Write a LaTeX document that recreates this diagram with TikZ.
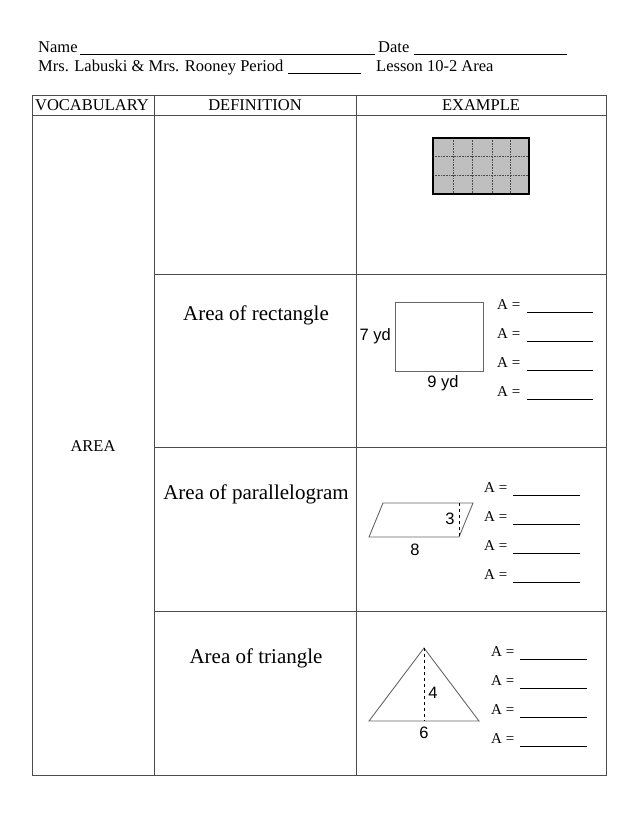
\documentclass[tikz,border=0pt]{standalone}
\usepackage{fontspec}
\setmainfont{Liberation Serif}
\newfontfamily\arial{Liberation Sans}
\begin{document}
\begin{tikzpicture}[x=1pt,y=-1pt,
  grid/.style={draw=black!70,line width=0.8pt},
  txt/.style={font=\fontsize{16.5}{18}\selectfont,inner sep=0pt},
  ans/.style={font=\fontsize{15}{17}\selectfont,inner sep=0pt},
  big/.style={font=\fontsize{21}{23}\selectfont,inner sep=0pt},
  lab/.style={font=\arial\fontsize{16.5}{18}\selectfont,inner sep=0pt},
  shp/.style={draw=black!60,line width=0.9pt},
  blank/.style={draw=black,line width=0.6pt}]
\useasboundingbox (0,0) rectangle (638,826);
% heading
\node[txt,anchor=base west] (nm) at (38,53) {Name};
\draw[blank] (80,54) -- (375,54);
\node[txt,anchor=base west] (dt) at (378,53) {Date};
\draw[blank] (414,54) -- (567,54);
\node[txt,anchor=base west] (l2) at (38,72) {Mrs. Labuski \& Mrs. Rooney Period};
\draw[blank] (288,73) -- (361,73);
\node[txt,anchor=base west] (l3) at (376,72) {Lesson 10-2 Area};
% table
\draw[grid] (32,95) rectangle (606,775);
\draw[grid] (32,115) -- (606,115);
\draw[grid] (154,95) -- (154,775);
\draw[grid] (356,95) -- (356,775);
\foreach \y in {274,447,611} \draw[grid] (154,\y) -- (606,\y);
\node[txt] (h1) at (92,105) {VOCABULARY};
\node[txt] (h2) at (255,105) {DEFINITION};
\node[txt] (h3) at (481,105) {EXAMPLE};
\node[txt] (ar) at (93,446) {AREA};
\node[big] (d1) at (256,315) {Area of rectangle};
\node[big] (d2) at (256,494) {Area of parallelogram};
\node[big] (d3) at (256,658) {Area of triangle};
% grid rectangle
\fill[black!25] (433,138) rectangle (529,194);
\foreach \x in {453,472,492,510} \draw[densely dotted,black!70,line width=0.6pt] (\x,138) -- (\x,194);
\foreach \y in {156,175} \draw[densely dotted,black!70,line width=0.6pt] (433,\y) -- (529,\y);
\draw[black,line width=1.2pt] (433,138) rectangle (529,194);
% rectangle
\draw[shp] (395,302) rectangle (483,371);
\node[lab,anchor=east] (r7) at (391,336) {7 yd};
\node[lab] (r9) at (443,383) {9 yd};
% parallelogram
\draw[shp] (369,537) -- (383,503) -- (473,503) -- (459,537) -- cycle;
\draw[dashed,line width=0.7pt] (459,503) -- (459,537);
\node[lab] (p3) at (450,519) {3};
\node[lab] (p8) at (415,550) {8};
% triangle
\draw[shp] (369,721) -- (424,648) -- (479,721) -- cycle;
\draw[dashed,line width=0.7pt] (424,648) -- (424,721);
\node[lab] (t4) at (433,693) {4};
\node[lab] (t6) at (424,733) {6};
% answer lines
\foreach \y in {304,333,362,391} {\node[ans,anchor=base west] at (497,\y+5) {A =}; \draw[blank] (527,\y+8) -- (593,\y+8);}
\foreach \y in {487,516,545,574} {\node[ans,anchor=base west] at (484,\y+5) {A =}; \draw[blank] (513,\y+8) -- (580,\y+8);}
\foreach \y in {651,680,709,738} {\node[ans,anchor=base west] at (491,\y+5) {A =}; \draw[blank] (520,\y+8) -- (587,\y+8);}
\end{tikzpicture}
\end{document}
